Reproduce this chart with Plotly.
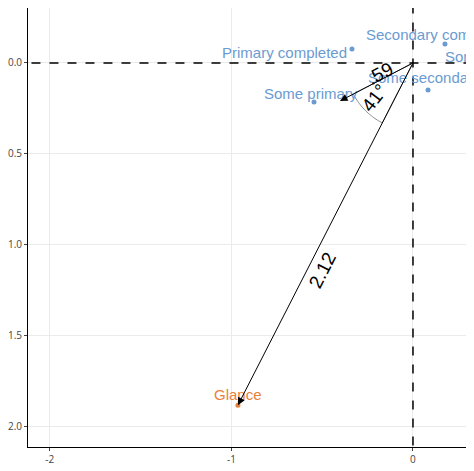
import plotly.graph_objects as go
import numpy as np

# points (blue) and their labels
pt_x = [-0.336, 0.176, -0.545, 0.083]
pt_y = [0.077, 0.104, -0.214, -0.148]
glance_x, glance_y = -0.964, -1.88
proj_x, proj_y = -0.402, -0.209

labels = ["Primary completed", "Secondary completed", "Some secondary", "Some primary", "Some tertiary"]
lab_x = [-0.355, -0.27, -0.26, -0.832, 0.165]
lab_y = [0.06, 0.155, -0.08, -0.17, 0.035]
lab_anchor = ["right", "left", "left", "left", "left"]

blue = "#6b9bd1"
orange = "#e8803a"

fig = go.Figure()
fig.add_trace(go.Scatter(x=pt_x, y=pt_y, mode="markers",
                         marker=dict(color=blue, size=5), hoverinfo="skip"))
fig.add_trace(go.Scatter(x=[glance_x], y=[glance_y], mode="markers",
                         marker=dict(color=orange, size=5), hoverinfo="skip"))

for t, x, y, a in zip(labels, lab_x, lab_y, lab_anchor):
    fig.add_annotation(x=x, y=y, text=t, showarrow=False, xanchor=a,
                       font=dict(color=blue, size=15, family="Liberation Sans"))
fig.add_annotation(x=glance_x, y=glance_y + 0.06, text="Glance", showarrow=False,
                   font=dict(color=orange, size=15, family="Liberation Sans"))

# angle wedge (white fill covers labels beneath)
r = 0.37
a1 = np.arctan2(proj_y, proj_x)
a2 = np.arctan2(glance_y, glance_x)
angs = np.linspace(a1, a2, 30)
path = "M 0,0 " + " ".join(f"L {r*np.cos(a)},{r*np.sin(a)}" for a in angs) + " Z"
fig.add_shape(type="path", path=path, fillcolor="white", line=dict(color="#888", width=1))

# reference lines
fig.add_shape(type="line", x0=0, x1=0, y0=-2.2, y1=0.4, line=dict(color="black", dash="dash", width=1.5))
fig.add_shape(type="line", x0=-2.2, x1=0.4, y0=0, y1=0, line=dict(color="black", dash="dash", width=1.5))

# arrows
for ex, ey in [(glance_x, glance_y), (proj_x, proj_y)]:
    fig.add_annotation(x=ex, y=ey, ax=0, ay=0, xref="x", yref="y", axref="x", ayref="y",
                       text="", showarrow=True, arrowhead=2, arrowsize=1.5,
                       arrowwidth=1, arrowcolor="black")

fig.add_annotation(x=-0.18, y=-0.06, text=".59", showarrow=False, textangle=-28,
                   font=dict(size=19, color="black", family="Liberation Sans"))
fig.add_annotation(x=-0.21, y=-0.19, text="41°", showarrow=False, textangle=-52,
                   font=dict(size=19, color="black", family="Liberation Sans"))
fig.add_annotation(x=-0.5, y=-1.14, text="2.12", showarrow=False, textangle=-63,
                   font=dict(size=19, color="black", family="Liberation Sans"))

fig.update_xaxes(range=[-2.12, 0.336], tickvals=[-2, -1, 0], ticktext=["-2", "-1", "0"],
                 showgrid=True, gridcolor="#ebebeb", zeroline=False,
                 showline=True, linecolor="black", ticks="outside", ticklen=3,
                 tickfont=dict(size=10, color="#444"))
fig.update_yaxes(range=[-2.11, 0.302], tickvals=[0, -0.5, -1, -1.5, -2],
                 ticktext=["0.0", "-0.5", "-1.0", "-1.5", "-2.0"],
                 showgrid=True, gridcolor="#ebebeb", zeroline=False,
                 showline=True, linecolor="black", ticks="outside", ticklen=3,
                 tickfont=dict(size=10, color="#444"))
fig.update_layout(width=466, height=455, showlegend=False, plot_bgcolor="white",
                  paper_bgcolor="white", margin=dict(l=20, r=0, t=0, b=16, autoexpand=False))
fig.write_html("out.html")
